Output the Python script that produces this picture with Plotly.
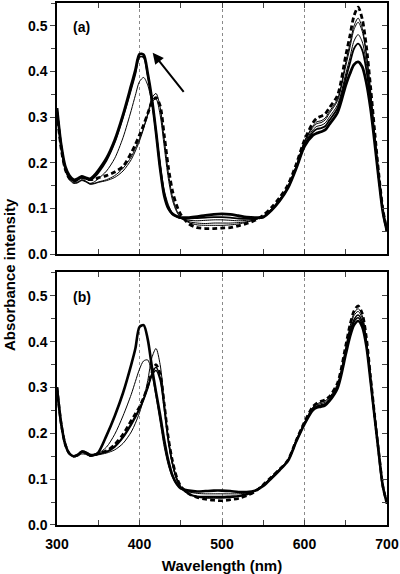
import plotly.graph_objects as go

wavelength = [300, 305, 310, 315, 320, 325, 330, 335, 340, 345, 350, 360, 370, 380, 390,
              395, 400, 405, 410, 415, 420, 425, 430, 435, 440, 445, 450,
              460, 470, 480, 490, 500, 510, 520, 530, 540, 550, 560, 570, 580, 590, 600, 610,
              615, 620, 625, 630, 640, 650,
              655, 660, 665, 670, 675, 680, 685, 690, 695, 700]

# Panel (a)
a_initial_dashed = [0.31, 0.232, 0.186, 0.166, 0.16, 0.163, 0.168, 0.165, 0.163, 0.164, 0.167, 0.172, 0.18, 0.192, 0.222,
                    0.24, 0.261, 0.283, 0.308, 0.332, 0.343, 0.325, 0.26, 0.19, 0.138, 0.107, 0.087,
                    0.066, 0.058, 0.056, 0.056, 0.057, 0.058, 0.062, 0.067, 0.074, 0.085, 0.102, 0.124, 0.152, 0.197, 0.25, 0.287,
                    0.298, 0.302, 0.307, 0.32, 0.348, 0.435,
                    0.478, 0.522, 0.541, 0.515, 0.455, 0.368, 0.27, 0.176, 0.098, 0.05]
a_thin_1 = [0.31, 0.23, 0.183, 0.163, 0.155, 0.156, 0.161, 0.158, 0.153, 0.154, 0.157, 0.161, 0.168, 0.182, 0.207,
            0.226, 0.248, 0.275, 0.308, 0.342, 0.352, 0.322, 0.252, 0.178, 0.125, 0.096, 0.08,
            0.069, 0.064, 0.063, 0.063, 0.063, 0.064, 0.066, 0.07, 0.075, 0.082, 0.099, 0.121, 0.149, 0.193, 0.248, 0.28,
            0.29, 0.292, 0.298, 0.312, 0.34, 0.42,
            0.46, 0.5, 0.517, 0.495, 0.44, 0.36, 0.265, 0.173, 0.097, 0.05]
a_thin_2 = [0.312, 0.232, 0.185, 0.165, 0.156, 0.157, 0.162, 0.159, 0.154, 0.155, 0.158, 0.163, 0.172, 0.188, 0.213,
            0.232, 0.252, 0.277, 0.305, 0.333, 0.34, 0.305, 0.235, 0.165, 0.118, 0.093, 0.08,
            0.071, 0.068, 0.067, 0.068, 0.068, 0.068, 0.069, 0.071, 0.076, 0.082, 0.098, 0.12, 0.148, 0.192, 0.246, 0.277,
            0.286, 0.288, 0.294, 0.308, 0.336, 0.412,
            0.452, 0.492, 0.508, 0.488, 0.435, 0.356, 0.263, 0.172, 0.096, 0.05]
a_thin_3 = [0.315, 0.235, 0.187, 0.167, 0.158, 0.158, 0.163, 0.16, 0.155, 0.158, 0.165, 0.182, 0.21, 0.255, 0.315,
            0.348, 0.378, 0.387, 0.37, 0.33, 0.27, 0.2, 0.14, 0.108, 0.09, 0.082, 0.078,
            0.074, 0.073, 0.074, 0.075, 0.075, 0.074, 0.073, 0.074, 0.077, 0.081, 0.097, 0.118, 0.147, 0.191, 0.244, 0.272,
            0.28, 0.282, 0.287, 0.3, 0.327, 0.395,
            0.43, 0.467, 0.481, 0.465, 0.418, 0.345, 0.258, 0.17, 0.095, 0.05]
a_thin_4 = [0.318, 0.238, 0.19, 0.17, 0.161, 0.163, 0.168, 0.165, 0.162, 0.168, 0.178, 0.205, 0.245, 0.3, 0.362,
            0.395, 0.432, 0.431, 0.392, 0.337, 0.268, 0.19, 0.13, 0.1, 0.087, 0.082, 0.079,
            0.078, 0.079, 0.08, 0.081, 0.081, 0.08, 0.078, 0.077, 0.078, 0.081, 0.097, 0.118, 0.146, 0.19, 0.24, 0.267,
            0.274, 0.276, 0.28, 0.293, 0.32, 0.385,
            0.418, 0.45, 0.461, 0.447, 0.403, 0.335, 0.253, 0.168, 0.094, 0.05]
a_final_thick = [0.32, 0.24, 0.192, 0.172, 0.163, 0.165, 0.17, 0.167, 0.165, 0.172, 0.183, 0.21, 0.25, 0.305, 0.37,
                 0.403, 0.438, 0.437, 0.395, 0.34, 0.268, 0.188, 0.128, 0.1, 0.088, 0.083, 0.08,
                 0.08, 0.082, 0.085, 0.087, 0.088, 0.087, 0.084, 0.081, 0.08, 0.081, 0.096, 0.117, 0.145, 0.188, 0.236, 0.26,
                 0.265, 0.268, 0.272, 0.284, 0.31, 0.37,
                 0.395, 0.415, 0.421, 0.41, 0.375, 0.32, 0.245, 0.165, 0.092, 0.05]

# Panel (b)
b_initial_dashed = [0.30, 0.222, 0.176, 0.156, 0.15, 0.153, 0.16, 0.158, 0.152, 0.153, 0.156, 0.162, 0.176, 0.198, 0.228,
                    0.243, 0.258, 0.278, 0.303, 0.333, 0.35, 0.33, 0.265, 0.19, 0.14, 0.105, 0.085,
                    0.068, 0.06, 0.056, 0.054, 0.053, 0.055, 0.058, 0.064, 0.073, 0.088, 0.105, 0.122, 0.142, 0.185, 0.225, 0.258,
                    0.266, 0.27, 0.273, 0.28, 0.31, 0.392,
                    0.436, 0.467, 0.478, 0.462, 0.41, 0.325, 0.24, 0.16, 0.085, 0.047]
b_thin_1 = [0.298, 0.22, 0.174, 0.155, 0.149, 0.15, 0.155, 0.154, 0.15, 0.151, 0.153, 0.157, 0.164, 0.178, 0.203,
            0.222, 0.245, 0.275, 0.315, 0.365, 0.385, 0.35, 0.27, 0.19, 0.132, 0.1, 0.083,
            0.068, 0.062, 0.06, 0.06, 0.06, 0.061, 0.063, 0.067, 0.074, 0.086, 0.104, 0.122, 0.142, 0.185, 0.224, 0.257,
            0.264, 0.268, 0.271, 0.278, 0.308, 0.388,
            0.432, 0.462, 0.472, 0.457, 0.406, 0.322, 0.239, 0.16, 0.085, 0.047]
b_thin_2 = [0.30, 0.222, 0.176, 0.156, 0.15, 0.152, 0.158, 0.156, 0.151, 0.152, 0.156, 0.17, 0.198, 0.238, 0.285,
            0.313, 0.34, 0.358, 0.36, 0.33, 0.28, 0.225, 0.17, 0.13, 0.104, 0.088, 0.079,
            0.072, 0.069, 0.068, 0.068, 0.068, 0.068, 0.068, 0.07, 0.075, 0.086, 0.103, 0.121, 0.141, 0.184, 0.223, 0.255,
            0.262, 0.265, 0.268, 0.276, 0.305, 0.384,
            0.427, 0.457, 0.466, 0.451, 0.402, 0.32, 0.238, 0.159, 0.085, 0.047]
b_mid_3 = [0.30, 0.222, 0.176, 0.156, 0.15, 0.153, 0.159, 0.157, 0.151, 0.152, 0.155, 0.16, 0.172, 0.193, 0.222,
           0.238, 0.255, 0.276, 0.302, 0.33, 0.344, 0.322, 0.258, 0.185, 0.135, 0.102, 0.083,
           0.067, 0.061, 0.059, 0.059, 0.059, 0.06, 0.062, 0.066, 0.074, 0.087, 0.104, 0.121, 0.141, 0.184, 0.222, 0.253,
           0.259, 0.262, 0.265, 0.273, 0.302, 0.378,
           0.42, 0.448, 0.458, 0.444, 0.398, 0.318, 0.237, 0.158, 0.085, 0.047]
b_mid_4 = [0.30, 0.222, 0.176, 0.156, 0.15, 0.153, 0.159, 0.157, 0.151, 0.152, 0.155, 0.159, 0.17, 0.19, 0.218,
           0.234, 0.252, 0.273, 0.298, 0.326, 0.337, 0.316, 0.254, 0.182, 0.133, 0.101, 0.083,
           0.068, 0.063, 0.062, 0.062, 0.062, 0.063, 0.064, 0.068, 0.075, 0.087, 0.104, 0.121, 0.141, 0.183, 0.221, 0.252,
           0.258, 0.26, 0.263, 0.272, 0.3, 0.375,
           0.415, 0.443, 0.452, 0.438, 0.394, 0.317, 0.236, 0.158, 0.085, 0.047]
b_final_thick = [0.30, 0.222, 0.176, 0.156, 0.15, 0.153, 0.16, 0.158, 0.153, 0.153, 0.158, 0.195, 0.238, 0.288, 0.35,
                 0.385, 0.432, 0.436, 0.405, 0.345, 0.29, 0.24, 0.185, 0.14, 0.108, 0.09, 0.08,
                 0.075, 0.073, 0.074, 0.075, 0.075, 0.074, 0.072, 0.072, 0.075, 0.085, 0.102, 0.12, 0.14, 0.182, 0.22, 0.25,
                 0.256, 0.258, 0.261, 0.27, 0.298, 0.372,
                 0.41, 0.436, 0.445, 0.432, 0.39, 0.315, 0.235, 0.157, 0.084, 0.047]

x_tick_vals = [300, 400, 500, 600, 700]
y_tick_vals = [0.0, 0.1, 0.2, 0.3, 0.4, 0.5]

FONT = "Liberation Sans, Arial, sans-serif"

fig = go.Figure()

def add(y, yaxis, width, dash="solid"):
    fig.add_trace(go.Scatter(
        x=wavelength, y=y, mode="lines", xaxis="x" if yaxis == "y" else "x2", yaxis=yaxis,
        line=dict(color="black", width=width, dash=dash, shape="spline", smoothing=0.8),
        showlegend=False, hoverinfo="skip"))

# panel a
add(a_thin_1, "y", 1.0)
add(a_thin_2, "y", 1.0)
add(a_thin_3, "y", 1.0)
add(a_thin_4, "y", 1.8)
add(a_final_thick, "y", 2.8)
add(a_initial_dashed, "y", 2.8, "5px,3px")
# panel b
add(b_thin_1, "y2", 1.0)
add(b_thin_2, "y2", 1.0)
add(b_mid_3, "y2", 1.5)
add(b_mid_4, "y2", 1.5)
add(b_final_thick, "y2", 2.6)
add(b_initial_dashed, "y2", 2.6, "5px,3px")

tickfont = dict(family=FONT, size=14, color="black", weight="bold")

xcommon = dict(range=[300, 700], tickvals=x_tick_vals, ticks="inside", ticklen=5, tickwidth=1.2,
               minor=dict(dtick=50, tick0=300, ticks="inside", ticklen=5, tickwidth=1.2, showgrid=False),
               showline=True, linecolor="black", linewidth=1.5, mirror="allticks",
               showgrid=True, gridcolor="#8a8a8a", griddash="dot", gridwidth=1,
               zeroline=False, tickfont=tickfont)

ycommon = dict(tickvals=y_tick_vals, tickformat=".1f", ticks="outside", ticklen=5, tickwidth=1.2,
               minor=dict(dtick=0.05, tick0=0, ticks="outside", ticklen=4, tickwidth=1.2, showgrid=False),
               showline=True, linecolor="black", linewidth=1.5, mirror=True,
               showgrid=False, zeroline=False, tickfont=tickfont)

fig.update_layout(
    width=400, height=574,
    margin=dict(l=57, r=13, t=1, b=49),
    paper_bgcolor="white", plot_bgcolor="white",
    xaxis=dict(**xcommon, anchor="y", showticklabels=False),
    yaxis=dict(**ycommon, domain=[0.519, 1.0], range=[0, 0.5502], anchor="x"),
    xaxis2=dict(**xcommon, anchor="y2", showticklabels=True, ticklabelstandoff=5,
                title=dict(text="Wavelength (nm)", font=dict(family=FONT, size=15, color="black", weight="bold"),
                           standoff=10)),
    yaxis2=dict(**ycommon, domain=[0.0, 0.4847], range=[0, 0.552], anchor="x2"),
    yaxis3=dict(range=[0, 0.5502], overlaying="y", side="right", anchor="x", dtick=0.05, tick0=0,
                ticks="inside", ticklen=5, tickwidth=1.2, showticklabels=False, showgrid=False,
                showline=False, zeroline=False),
    yaxis4=dict(range=[0, 0.552], overlaying="y2", side="right", anchor="x2", dtick=0.05, tick0=0,
                ticks="inside", ticklen=5, tickwidth=1.2, showticklabels=False, showgrid=False,
                showline=False, zeroline=False),
)

# dummy traces so the right-hand tick axes render
fig.add_trace(go.Scatter(x=[None], y=[None], xaxis="x", yaxis="y3", showlegend=False, hoverinfo="skip"))
fig.add_trace(go.Scatter(x=[None], y=[None], xaxis="x2", yaxis="y4", showlegend=False, hoverinfo="skip"))

labfont = dict(family=FONT, size=14, color="black", weight="bold")
fig.add_annotation(text="(a)", x=330, y=0.498, xref="x", yref="y", showarrow=False, font=labfont)
fig.add_annotation(text="(b)", x=330, y=0.498, xref="x2", yref="y2", showarrow=False, font=labfont)

fig.add_annotation(x=416, y=0.441, xref="x", yref="y", ax=455, ay=0.352, axref="x", ayref="y",
                   showarrow=True, arrowhead=2, arrowsize=1.1, arrowwidth=2, arrowcolor="black", text="")

fig.add_annotation(text="Absorbance intensity", x=-0.142, y=0.479, xref="paper", yref="paper",
                   textangle=-90, showarrow=False, xanchor="center", yanchor="middle",
                   font=dict(family=FONT, size=15, color="black", weight="bold"))

fig.write_html("out.html")
